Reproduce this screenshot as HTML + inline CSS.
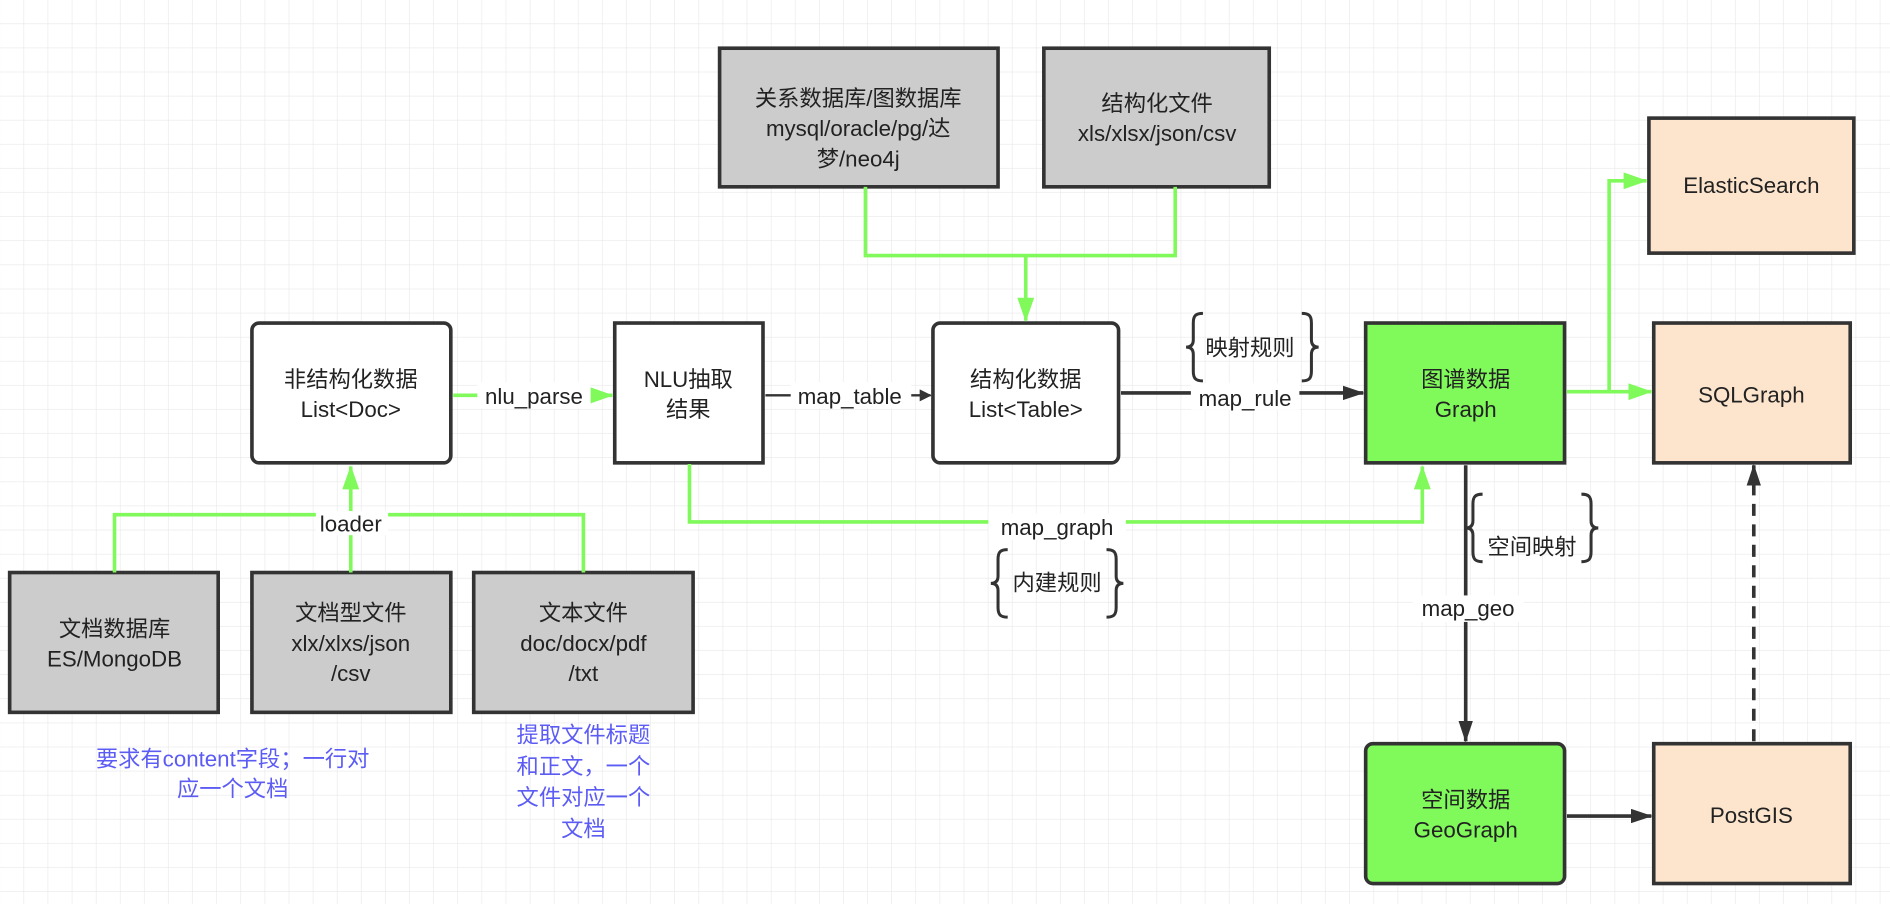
<!DOCTYPE html>
<html><head><meta charset="utf-8"><style>
html,body{margin:0;padding:0;background:#fff;}
svg{display:block;}
text{font-family:"Liberation Sans","Noto Sans CJK SC",sans-serif;font-size:18.5px;fill:#222;text-anchor:middle;}
.b{fill:#5c5cf5;}
</style></head><body>
<svg width="1890" height="904" viewBox="0 0 1568 750" xmlns="http://www.w3.org/2000/svg">
<defs>
<pattern id="g" width="20" height="20" patternUnits="userSpaceOnUse"><path d="M20 0V20H0" fill="none" stroke="#e8e8e8" stroke-width="1"/></pattern>
<marker id="ak" markerWidth="10" markerHeight="10" refX="9" refY="5" orient="auto" markerUnits="userSpaceOnUse"><path d="M0 0L10 5L0 10z" fill="#333"/></marker>
<marker id="ag" markerWidth="20" markerHeight="14" refX="19" refY="7" orient="auto" markerUnits="userSpaceOnUse"><path d="M0 0L20 7L0 14z" fill="#80f95b"/></marker>
<marker id="ak2" markerWidth="18" markerHeight="12" refX="17" refY="6" orient="auto" markerUnits="userSpaceOnUse"><path d="M0 0L18 6L0 12z" fill="#333"/></marker>
</defs>
<rect width="1568" height="750" fill="url(#g)"/>
<g stroke="#333" stroke-width="3">
<rect x="597" y="40" width="231" height="115" fill="#cccccc"/>
<rect x="866" y="40" width="187" height="115" fill="#cccccc"/>
<rect x="1368" y="98" width="170" height="112" fill="#fde5cd"/>
<rect x="209" y="268" width="165" height="116" rx="6" fill="#fff"/>
<rect x="510" y="268" width="123" height="116" fill="#fff"/>
<rect x="774" y="268" width="154" height="116" rx="6" fill="#fff"/>
<rect x="1133" y="268" width="165" height="116" fill="#80f95b"/>
<rect x="1372" y="268" width="163" height="116" fill="#fde5cd"/>
<rect x="8" y="475" width="173" height="116" fill="#cccccc"/>
<rect x="209" y="475" width="165" height="116" fill="#cccccc"/>
<rect x="393" y="475" width="182" height="116" fill="#cccccc"/>
<rect x="1133" y="617" width="165" height="116" rx="6" fill="#80f95b"/>
<rect x="1372" y="617" width="163" height="116" fill="#fde5cd"/>
</g>
<g fill="none" stroke="#80f95b" stroke-width="3">
<path d="M718 155V212H975V155"/>
<path d="M851 212V266" marker-end="url(#ag)"/>
<path d="M376 328H508" marker-end="url(#ag)"/>
<path d="M572 385V433H1180V387" marker-end="url(#ag)"/>
<path d="M95 475V427H484V475"/>
<path d="M291 475V387" marker-end="url(#ag)"/>
<path d="M1300 325H1370" marker-end="url(#ag)"/>
<path d="M1335 325V150H1366" marker-end="url(#ag)"/>
</g>
<g fill="none" stroke="#333" stroke-width="3">
<path d="M635 328H772" stroke-width="2" marker-end="url(#ak)"/>
<path d="M930 326H1131" marker-end="url(#ak2)"/>
<path d="M1216 386V615" marker-end="url(#ak2)"/>
<path d="M1300 677H1370" marker-end="url(#ak2)"/>
<path d="M1455 615V386" stroke-dasharray="10,7" marker-end="url(#ak2)"/>
</g>
<g fill="#fff">
<rect x="396" y="317" width="94" height="22"/>
<rect x="656" y="317" width="100" height="22"/>
<rect x="988" y="318" width="90" height="22"/>
<rect x="820" y="426" width="114" height="22"/>
<rect x="262" y="424" width="60" height="20"/>
<rect x="1172" y="494" width="92" height="22"/>
</g>
<g fill="none" stroke="#333" stroke-width="2.5">
<path d="M998 260c-6 0-8 2-8 8v14c0 4-2 6-6 6c4 0 6 2 6 6v14c0 6 2 8 8 8"/><path d="M1080 260c6 0 8 2 8 8v14c0 4 2 6 6 6c-4 0-6 2-6 6v14c0 6-2 8-8 8"/>
<path d="M836 456c-6 0-8 2-8 8v14c0 4-2 6-6 6c4 0 6 2 6 6v14c0 6 2 8 8 8"/><path d="M918 456c6 0 8 2 8 8v14c0 4 2 6 6 6c-4 0-6 2-6 6v14c0 6-2 8-8 8"/>
<path d="M1230 410c-6 0-8 2-8 8v14c0 4-2 6-6 6c4 0 6 2 6 6v14c0 6 2 8 8 8"/><path d="M1312 410c6 0 8 2 8 8v14c0 4 2 6 6 6c-4 0-6 2-6 6v14c0 6-2 8-8 8"/>
</g>
<text x="712" y="88">关系数据库/图数据库</text>
<text x="712" y="113">mysql/oracle/pg/达</text>
<text x="712" y="138">梦/neo4j</text>
<text x="960" y="92">结构化文件</text>
<text x="960" y="117">xls/xlsx/json/csv</text>
<text x="1453" y="160">ElasticSearch</text>
<text x="291" y="321">非结构化数据</text>
<text x="291" y="346">List&lt;Doc&gt;</text>
<text x="571" y="321">NLU抽取</text>
<text x="571" y="346">结果</text>
<text x="851" y="321">结构化数据</text>
<text x="851" y="346">List&lt;Table&gt;</text>
<text x="1216" y="321">图谱数据</text>
<text x="1216" y="346">Graph</text>
<text x="1453" y="334">SQLGraph</text>
<text x="95" y="528">文档数据库</text>
<text x="95" y="553">ES/MongoDB</text>
<text x="291" y="515">文档型文件</text>
<text x="291" y="540">xlx/xlxs/json</text>
<text x="291" y="565">/csv</text>
<text x="484" y="515">文本文件</text>
<text x="484" y="540">doc/docx/pdf</text>
<text x="484" y="565">/txt</text>
<text x="1216" y="670">空间数据</text>
<text x="1216" y="695">GeoGraph</text>
<text x="1453" y="683">PostGIS</text>
<text x="443" y="335">nlu_parse</text>
<text x="705" y="335">map_table</text>
<text x="1033" y="337">map_rule</text>
<text x="1037" y="295">映射规则</text>
<text x="877" y="444">map_graph</text>
<text x="877" y="490">内建规则</text>
<text x="291" y="441">loader</text>
<text x="1218" y="511">map_geo</text>
<text x="1271" y="460">空间映射</text>
<text class="b" x="193" y="636">要求有content字段；一行对</text>
<text class="b" x="193" y="661">应一个文档</text>
<text class="b" x="484" y="616">提取文件标题</text>
<text class="b" x="484" y="642">和正文，一个</text>
<text class="b" x="484" y="668">文件对应一个</text>
<text class="b" x="484" y="694">文档</text>
</svg>
</body></html>
